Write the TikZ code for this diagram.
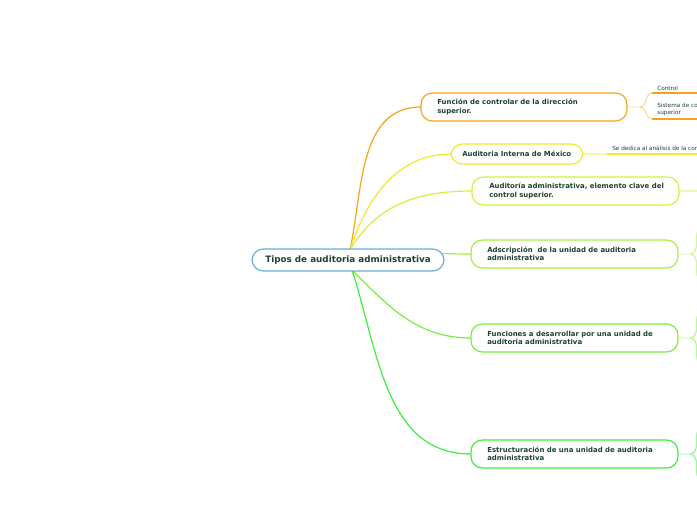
\documentclass[tikz,border=0pt]{standalone}
\usepackage{fontspec}
\setmainfont{DejaVu Sans}
\begin{document}
\begin{tikzpicture}[x=0.75pt,y=-0.75pt,
  nb/.style args={#1/#2/#3}{draw=#1,line width=0.9pt,rounded corners=8.5pt,fill=white,minimum width=#2*0.75pt,minimum height=#3*0.75pt,inner sep=0pt},
  lab/.style={font=\bfseries\fontsize{5.2}{6.4}\selectfont,text=txt,align=left,anchor=west,inner sep=0pt},
  sm/.style={font=\fontsize{4.3}{5.2}\selectfont,text=txt,align=left,anchor=west,inner sep=0pt},
  br/.style={draw=#1,line width=0.9pt}]
\definecolor{txt}{HTML}{1E4035}
\definecolor{cr}{HTML}{6AAEDD}
\definecolor{c1}{HTML}{F7A21B}
\definecolor{c2}{HTML}{F2E82A}
\definecolor{c3}{HTML}{D2F03E}
\definecolor{c4}{HTML}{A8EE3E}
\definecolor{c5}{HTML}{78EE3C}
\definecolor{c6}{HTML}{3EEE3C}
\useasboundingbox (0,0) rectangle (697,520);
% branches
\coordinate (r0) at (350,250);
\draw[br=c1] (r0) to[out=78,in=180] (421,107);
\draw[br=c2] (r0) to[out=72,in=180] (451,154);
\draw[br=c3] (r0) to[out=60,in=180] (472,191);
\draw[br=c4] (r0) to[out=0,in=180] (471,254);
\draw[br=c5] (352,270) to[out=-45,in=180] (471,338);
\draw[br=c6] (352,270) to[out=-72,in=180] (471,454);
% nodes
\node[nb=cr/192/22] (root) at (348,260) {};
\node[font=\bfseries\fontsize{6.6}{8}\selectfont,text=txt] at (root) {Tipos de auditoria administrativa};
\node[nb=c1/206/28] (n1) at (524,107) {};
\node[lab] at (437,107) {Función de controlar de la dirección\\superior.};
\node[nb=c2/132/20] (n2) at (517,154) {};
\node[lab] at (462,154) {Auditoria Interna de México};
\node[nb=c3/207/28] (n3) at (575.5,191) {};
\node[lab] at (489,191) {Auditoría administrativa, elemento clave del\\control superior.};
\node[nb=c4/207/28] (n4) at (574.5,254) {};
\node[lab] at (487,254) {Adscripción\ \ de la unidad de auditoria\\administrativa};
\node[nb=c5/207/28] (n5) at (574.5,338) {};
\node[lab] at (487,338) {Funciones a desarrollar por una unidad de\\auditoria administrativa};
\node[nb=c6/207/28] (n6) at (574.5,454) {};
\node[lab] at (487,454) {Estructuración de una unidad de auditoria\\administrativa};
% sub-branches
\draw[c1!50,line width=0.7pt] (n1.east) -- (640,107) to[out=0,in=180] (652,93) -- (697,93);
\draw[c1!50,line width=0.7pt] (640,107) to[out=0,in=180] (652,119) -- (697,119);
\draw[c1,line width=1.2pt] (652,93) -- (697,93);
\draw[c1,line width=1.2pt] (652,119) -- (697,119);
\node[sm] at (657,88) {Control};
\node[sm] at (657,109) {Sistema de co\\superior};
\draw[c2!40,line width=1pt] (n2.east) -- (607,154);
\draw[c2,line width=1.3pt] (607,154) -- (697,154);
\node[sm] at (612,148) {Se dedica al análisis de la cont};
\draw[c3!40,line width=0.8pt] (n3.east) -- (697,191);
\foreach \n/\y/\c in {n4/254/c4,n5/338/c5,n6/454/c6}{
  \draw[\c!50,line width=0.7pt] (\n.east) -- (690,\y) to[out=0,in=-100] (697,{\y-22});
  \draw[\c!50,line width=0.7pt] (690,\y) to[out=0,in=100] (697,{\y+22});
  \draw[\c!50,line width=0.7pt] (690,\y) to[out=0,in=-120] (697,{\y-8});
  \draw[\c!50,line width=0.7pt] (690,\y) to[out=0,in=120] (697,{\y+8});
}
\end{tikzpicture}
\end{document}
